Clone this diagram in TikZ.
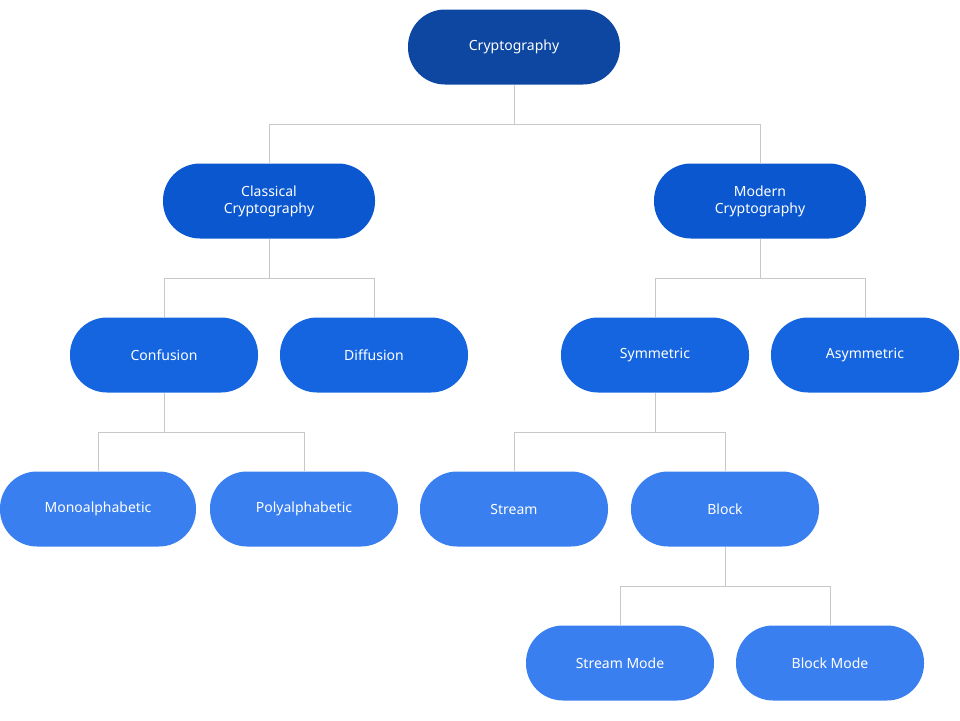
\documentclass[tikz,border=0pt]{standalone}
\usepackage{fontspec}
\setmainfont{Noto Sans}
\definecolor{c1}{HTML}{0D47A1}
\definecolor{c2}{HTML}{0B57D0}
\definecolor{c3}{HTML}{1565E0}
\definecolor{c4}{HTML}{3A7FF0}
\definecolor{ln}{HTML}{C8C8C8}
\begin{document}
\begin{tikzpicture}[x=1pt,y=-1pt,
 box/.style={rounded corners=37pt,minimum height=75pt,text=white,font=\fontsize{14}{17}\selectfont,align=center,inner sep=0pt},
 wide/.style={box,minimum width=212pt},
 nar/.style={box,minimum width=188pt},
 con/.style={draw=ln,line width=0.8pt}]
\useasboundingbox (0,0) rectangle (960,720);
\node[wide,fill=c1] (cr) at (514,47) {Cryptography};
\node[wide,fill=c2] (cl) at (269,201) {Classical\\Cryptography};
\node[wide,fill=c2] (mo) at (760,201) {Modern\\Cryptography};
\node[nar,fill=c3] (cf) at (164,355) {Confusion};
\node[nar,fill=c3] (df) at (374,355) {Diffusion};
\node[nar,fill=c3] (sy) at (655,355) {Symmetric};
\node[nar,fill=c3] (as) at (865,355) {Asymmetric};
\node[nar,minimum width=196pt,fill=c4] (ma) at (98,509) {Monoalphabetic};
\node[nar,fill=c4] (pa) at (304,509) {Polyalphabetic};
\node[nar,fill=c4] (st) at (514,509) {Stream};
\node[nar,fill=c4] (bl) at (725,509) {Block};
\node[nar,fill=c4] (sm) at (620,663) {Stream Mode};
\node[nar,fill=c4] (bm) at (830,663) {Block Mode};
\begin{scope}[on background layer/.style={}]
\foreach \p/\a/\b/\m in {cr/cl/mo/124, cl/cf/df/278, mo/sy/as/278, cf/ma/pa/432, sy/st/bl/432, bl/sm/bm/586}{
 \draw[con] (\p.south) |- (\a.north |- 0,\m) -- (\a.north);
 \draw[con] (\p.south) |- (\b.north |- 0,\m) -- (\b.north);
}
\end{scope}
\end{tikzpicture}
\end{document}
